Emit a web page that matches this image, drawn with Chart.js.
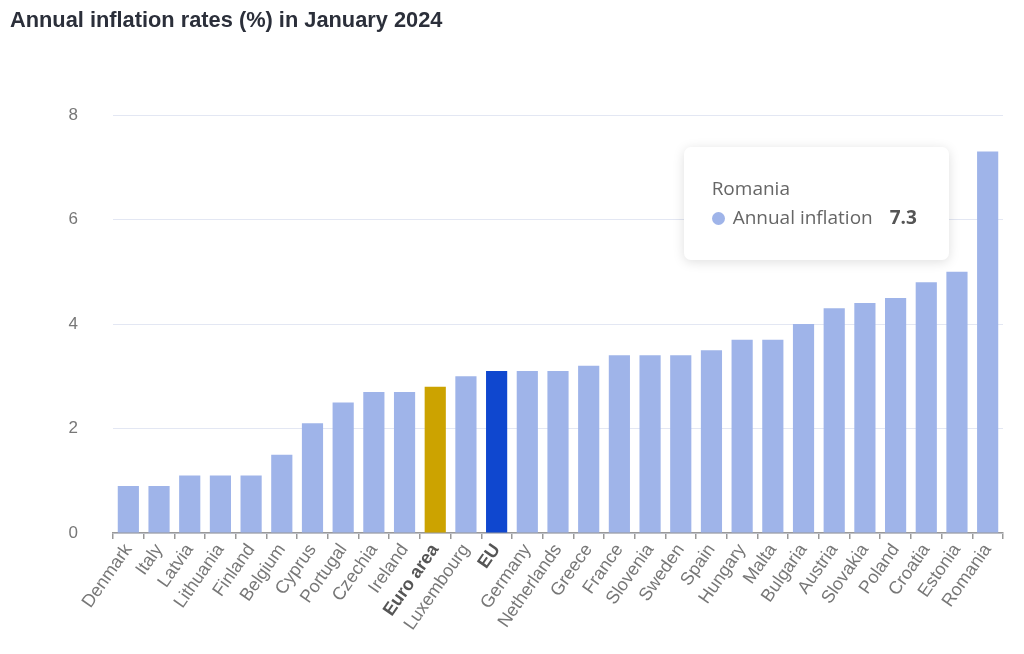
<!DOCTYPE html>
<html>
<head>
<meta charset="utf-8">
<script src="https://cdn.jsdelivr.net/npm/chart.js@4"></script>
<style>
  html, body { margin: 0; padding: 0; background: #fff; }
  #wrap { position: relative; width: 1024px; height: 654px; overflow: hidden; }
  #title { position: absolute; left: 10px; top: 7px; font: bold 21.8px "Liberation Sans", Arial, sans-serif; color: #2b2f3a; }
  #chart { position: absolute; left: 0; top: 0; }
  #tip { position: absolute; background: #fff; border-radius: 7px; box-shadow: 0 2px 12px rgba(0,0,0,0.13);
         font: 19px "Open Sans", "Noto Sans", sans-serif; color: #666; box-sizing: border-box; padding: 27px 28px 0 28px; display: none; }
  #tip .t { line-height: 29px; white-space: nowrap; }
  #tip .dot { display: inline-block; width: 13px; height: 13px; border-radius: 50%; margin-right: 8px; vertical-align: -1px; }
  #tip b { margin-left: 17px; color: #555; }
</style>
</head>
<body>
<div id="wrap">
  <canvas id="chart" width="1024" height="654"></canvas>
  <div id="title">Annual inflation rates (%) in January 2024</div>
  <div id="tip"></div>
</div>
<script>
const categories = ["Denmark","Italy","Latvia","Lithuania","Finland","Belgium","Cyprus","Portugal","Czechia","Ireland","Euro area","Luxembourg","EU","Germany","Netherlands","Greece","France","Slovenia","Sweden","Spain","Hungary","Malta","Bulgaria","Austria","Slovakia","Poland","Croatia","Estonia","Romania"];
const inflation = [0.9,0.9,1.1,1.1,1.1,1.5,2.1,2.5,2.7,2.7,2.8,3.0,3.1,3.1,3.1,3.2,3.4,3.4,3.4,3.5,3.7,3.7,4.0,4.3,4.4,4.5,4.8,5.0,7.3];
const yTicks = [0,2,4,6,8];
const seriesName = "Annual inflation";
const highlighted = "Romania";

const baseColor = "#9fb4e9";
const euroAreaColor = "#cca300";
const euColor = "#0f47cf";
const colors = categories.map(c => c === "Euro area" ? euroAreaColor : (c === "EU" ? euColor : baseColor));
const isAggregate = i => categories[i] === 'Euro area' || categories[i] === 'EU';

const tipEl = document.getElementById('tip');
function externalTip(context) {
  const { chart, tooltip } = context;
  if (!tooltip || tooltip.opacity === 0 || !tooltip.dataPoints || !tooltip.dataPoints.length) { tipEl.style.display = 'none'; return; }
  const dp = tooltip.dataPoints[0];
  const el = dp.element;
  tipEl.innerHTML = '<div class="t">' + dp.label + '</div>' +
    '<div class="t"><span class="dot" style="background:' + baseColor + '"></span>' + seriesName + '<b>' + dp.formattedValue + '</b></div>';
  tipEl.style.display = 'block';
  tipEl.style.width = '265px';
  tipEl.style.height = '113px';
  tipEl.style.left = (el.x - 39 - 265) + 'px';
  tipEl.style.top = (chart.chartArea.top + 32) + 'px';
}

const chart = new Chart(document.getElementById('chart'), {
  type: 'bar',
  data: {
    labels: categories,
    datasets: [{
      label: seriesName,
      data: inflation,
      backgroundColor: colors,
      borderWidth: 0,
      barPercentage: 0.69,
      categoryPercentage: 1.0
    }]
  },
  options: {
    responsive: false,
    animation: false,
    events: [],
    layout: { padding: { top: 115, left: 0, right: 21, bottom: 0 } },
    plugins: {
      legend: { display: false },
      title: { display: false },
      tooltip: { enabled: false, external: externalTip }
    },
    scales: {
      x: {
        afterFit: axis => { axis.height = 121; },
        border: { display: true, color: '#999', width: 1.5 },
        grid: { display: true, drawOnChartArea: false, drawTicks: true, tickLength: 6, color: '#999', lineWidth: 1.5, offset: true },
        ticks: {
          autoSkip: false,
          maxRotation: 55,
          minRotation: 55,
          padding: 1,
          color: ctx => isAggregate(ctx.index) ? '#555' : '#777',
          font: ctx => ({ family: '"Liberation Sans", Arial, sans-serif', size: 18,
                          weight: isAggregate(ctx.index) ? 'bold' : 'normal' })
        }
      },
      y: {
        min: 0,
        max: 8,
        afterBuildTicks: axis => { axis.ticks = yTicks.map(v => ({ value: v })); },
        afterFit: axis => { axis.width = 113; },
        border: { display: false },
        grid: { color: '#e3e7f3', lineWidth: 1, drawTicks: false },
        ticks: {
          padding: 35,
          color: '#777',
          font: { family: '"Liberation Sans", Arial, sans-serif', size: 17 }
        }
      }
    }
  }
});

const idx = categories.indexOf(highlighted);
chart.tooltip.setActiveElements([{ datasetIndex: 0, index: idx }], { x: 0, y: 0 });
chart.update();
</script>
</body>
</html>
